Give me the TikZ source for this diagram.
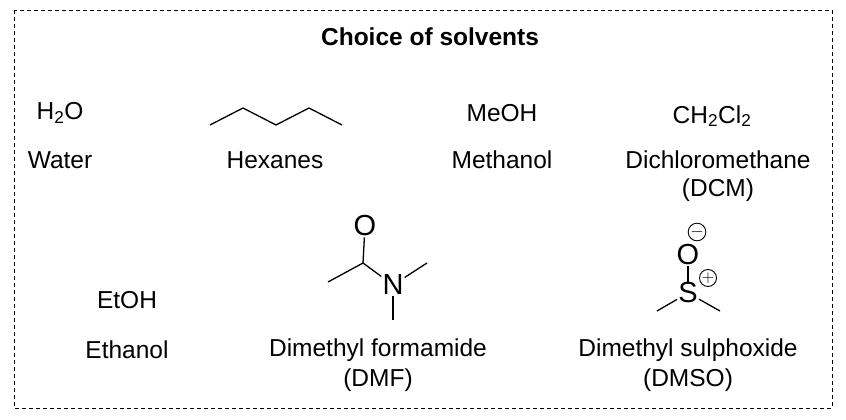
\documentclass[tikz,border=0pt]{standalone}
\usepackage{fontspec}
\setmainfont{Liberation Sans}
\begin{document}
\begin{tikzpicture}[x=1pt,y=-1pt,
  lbl/.style={font=\fontsize{24.5}{27}\selectfont,inner sep=1pt},
  atom/.style={font=\fontsize{29}{30}\selectfont,inner sep=1pt},
  bond/.style={line width=1.3pt},
  chg/.style={circle,draw,line width=0.9pt,minimum size=17pt,inner sep=0pt,font=\fontsize{16}{16}\selectfont}]
\useasboundingbox (0,0) rectangle (846,420);
\draw[dash pattern=on 4pt off 3pt,line width=0.9pt] (14,10) rectangle (832,408);
\node[lbl,font=\fontsize{24.5}{27}\selectfont\bfseries] (title) at (430,37) {Choice of solvents};
\node[lbl] (h2o) at (60,113) {H\textsubscript{2}O};
\node[lbl] (water) at (60,160) {Water};
\draw[bond] (210,125) -- (243,108) -- (276,125) -- (309,108) -- (342,125);
\node[lbl] (hex) at (275,160) {Hexanes};
\node[lbl] (meoh) at (502,113) {MeOH};
\node[lbl] (methanol) at (502,160) {Methanol};
\node[lbl] (dcmf) at (712,116) {CH\textsubscript{2}Cl\textsubscript{2}};
\node[lbl] (dcm) at (718,160) {Dichloromethane};
\node[lbl] (dcmab) at (718,190) {(DCM)};
\node[lbl] (etoh) at (127,300) {EtOH};
\node[lbl] (ethanol) at (127,350) {Ethanol};
% DMF
\node[atom] (o1) at (365,226) {O};
\node[atom] (n1) at (393,285) {N};
\coordinate (c1) at (363,263);
\coordinate (me1) at (328,282);
\coordinate (me2) at (427,263);
\coordinate (me3) at (393,320);
\draw[bond] (o1) -- (c1);
\draw[bond] (me1) -- (c1) -- (n1);
\draw[bond] (n1) -- (me2);
\draw[bond] (n1) -- (me3);
\node[lbl] (dmf) at (378,350) {Dimethyl formamide};
\node[lbl] (dmfab) at (378,380) {(DMF)};
% DMSO
\node[atom] (o2) at (688,255) {O};
\node[atom] (s) at (688,293) {S};
\node[chg] (minus) at (697,232) {$-$};
\node[chg] (plus) at (708,278) {$+$};
\coordinate (me4) at (657,311);
\coordinate (me5) at (720,311);
\draw[bond] (o2) -- (s);
\draw[bond] (s) -- (me4);
\draw[bond] (s) -- (me5);
\node[lbl] (dmso) at (688,350) {Dimethyl sulphoxide};
\node[lbl] (dmsoab) at (688,380) {(DMSO)};
\end{tikzpicture}
\end{document}
